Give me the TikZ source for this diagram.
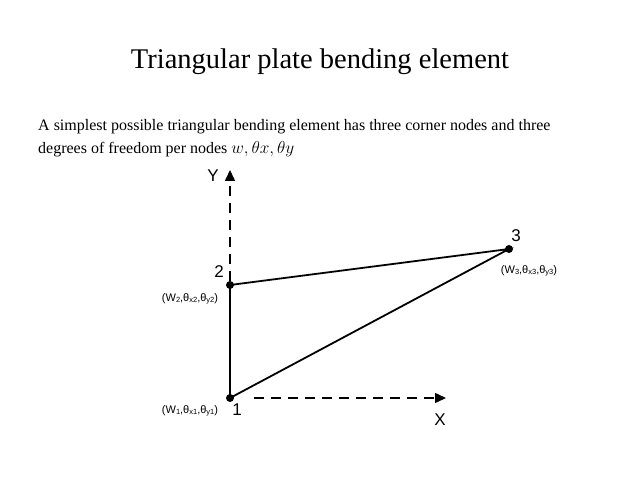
\documentclass[tikz,border=0pt]{standalone}
\usepackage{fontspec}
\setmainfont{Liberation Serif}
\newfontfamily\lsans{Liberation Sans}
\usetikzlibrary{arrows.meta}
\newcommand{\subsm}[1]{\raisebox{-0.25ex}{\fontsize{7.5}{7.5}\selectfont #1}}
\begin{document}
\begin{tikzpicture}[x=1pt,y=-1pt,
  dot/.style={circle,fill=black,inner sep=0pt,minimum size=8pt},
  num/.style={font=\lsans\fontsize{17}{17}\selectfont,inner sep=0pt},
  lab/.style={font=\lsans\fontsize{11}{11}\selectfont,inner sep=0pt},
  axis/.style={dashed,dash pattern=on 10pt off 7pt,line width=1.5pt},
  edge/.style={line width=1.8pt}]
\useasboundingbox (0,0) rectangle (638,478);
\node[font=\fontsize{28.5}{28.5}\selectfont,inner sep=0pt] (title) at (320,62) {Triangular plate bending element};
\node[font=\fontsize{16}{16}\selectfont,inner sep=0pt,anchor=west] (l1) at (38,127) {A simplest possible triangular bending element has three corner nodes and three};
\node[font=\fontsize{16}{16}\selectfont,inner sep=0pt,anchor=west] (l2) at (38,149) {degrees of freedom per nodes $w,\theta x,\theta y$};
\node[dot] (n1) at (230,398) {};
\node[dot] (n2) at (230,285) {};
\node[dot] (n3) at (509,249) {};
\coordinate (yt) at (230,170);
\coordinate (xt) at (446,398);
\draw[axis,-{Triangle[length=11pt,width=10pt]}] (n2) -- (yt);
\draw[axis,-{Triangle[length=11pt,width=10pt]}] ([xshift=24pt]n1.center) -- (xt);
\draw[edge] (n1.center) -- (n2.center) -- (n3.center) -- cycle;
\node[num] (yl) at (213,176) {Y};
\node[num] (xl) at (440,420) {X};
\node[num] (t1) at (237,410) {1};
\node[num] (t2) at (219,272) {2};
\node[num] (t3) at (516,236) {3};
\node[lab] (a1) at (190,411) {(W\subsm{1},θ\subsm{x1},θ\subsm{y1})};
\node[lab] (a2) at (190,299) {(W\subsm{2},θ\subsm{x2},θ\subsm{y2})};
\node[lab] (a3) at (529,271) {(W\subsm{3},θ\subsm{x3},θ\subsm{y3})};
\end{tikzpicture}
\end{document}
